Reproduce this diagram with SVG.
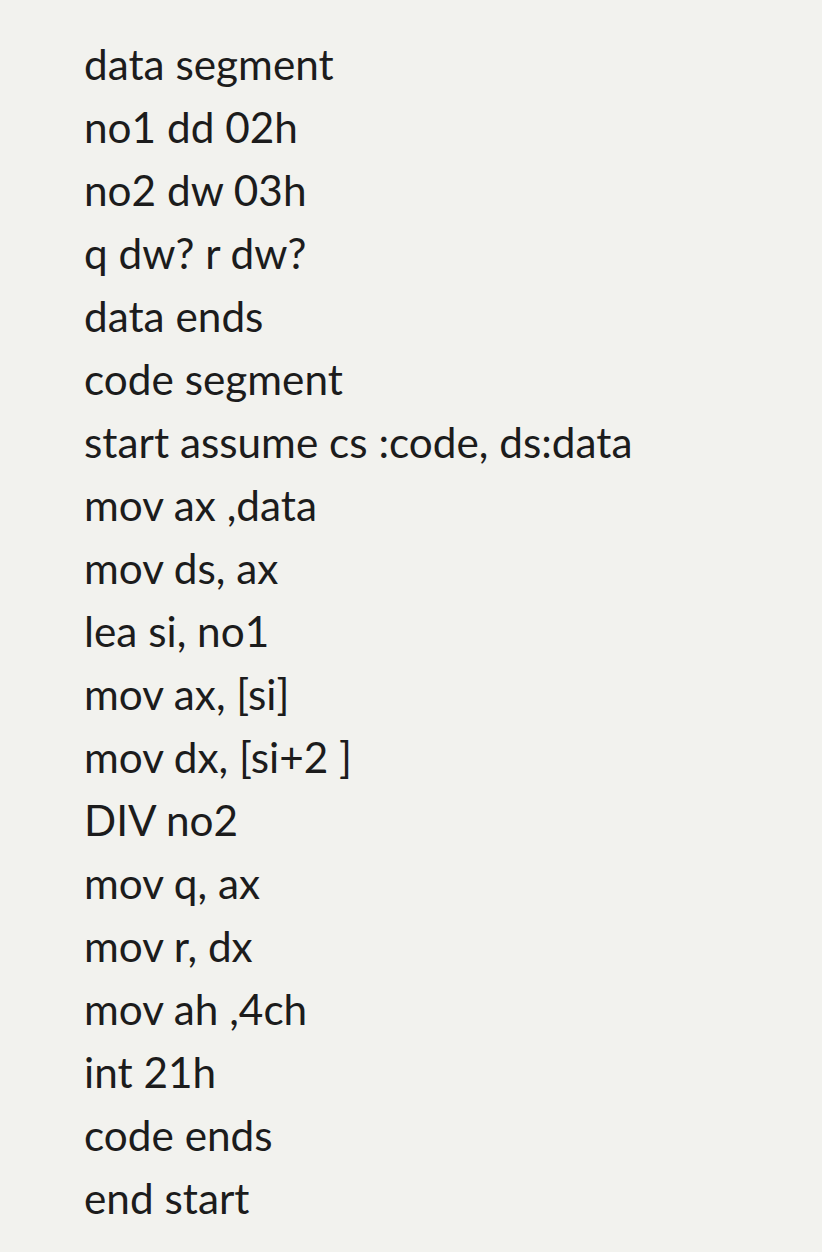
<svg xmlns="http://www.w3.org/2000/svg" width="822" height="1252" viewBox="0 0 822 1252">
<style>text{font-family:Lato,"Open Sans",sans-serif;font-size:42.3px;fill:#1c1c1c}</style>
<rect width="822" height="1252" fill="#f2f2ee"/>
<g id="code">
<text x="84" y="80">data segment</text>
<text x="84" y="143">no1 dd 02h</text>
<text x="84" y="206">no2 dw 03h</text>
<text x="84" y="269">q dw? r dw?</text>
<text x="84" y="332">data ends</text>
<text x="84" y="395">code segment</text>
<text x="84" y="458">start assume cs :code, ds:data</text>
<text x="84" y="521">mov ax ,data</text>
<text x="84" y="584">mov ds, ax</text>
<text x="84" y="647">lea si, no1</text>
<text x="84" y="710">mov ax, [si]</text>
<text x="84" y="773">mov dx, [si+2 ]</text>
<text x="84" y="836">DIV no2</text>
<text x="84" y="899">mov q, ax</text>
<text x="84" y="962">mov r, dx</text>
<text x="84" y="1025">mov ah ,4ch</text>
<text x="84" y="1088">int 21h</text>
<text x="84" y="1151">code ends</text>
<text x="84" y="1214">end start</text>
</g>
</svg>
